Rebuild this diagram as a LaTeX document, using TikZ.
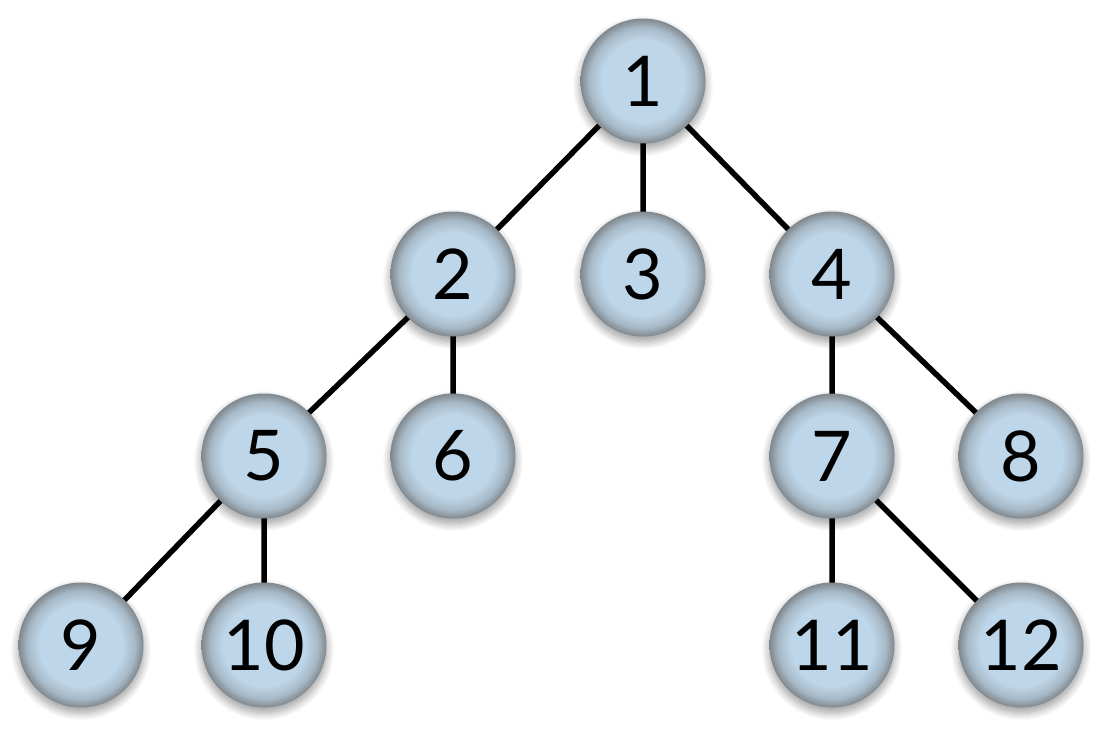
\documentclass[tikz,border=0pt]{standalone}
\usepackage{fontspec}
\setmainfont{Lato}
\usetikzlibrary{shadows.blur}
\definecolor{cin}{HTML}{BED6E9}
\definecolor{cmid}{HTML}{A7B9C7}
\definecolor{cout}{HTML}{80888E}
\pgfdeclareradialshading{ballshade}{\pgfpoint{0bp}{0bp}}{color(0bp)=(cin);color(16.5bp)=(cin);color(21.5bp)=(cmid);color(25bp)=(cout);color(50bp)=(cout)}
\tikzset{
  treenode/.style={circle, minimum size=125pt, inner sep=0pt, shading=ballshade,
    blur shadow={shadow xshift=0pt, shadow yshift=-5pt, shadow blur radius=8pt, shadow blur steps=12, shadow opacity=40},
    font=\fontsize{70}{84}\selectfont, text=black},
  treeedge/.style={line width=5.5pt, black}
}
\begin{document}
\begin{tikzpicture}[x=1pt,y=-1pt]
\useasboundingbox (0,0) rectangle (1109,733);
\coordinate (p1) at (643,81);
\coordinate (p2) at (453,274);
\coordinate (p3) at (643,274);
\coordinate (p4) at (832,274);
\coordinate (p5) at (264,456);
\coordinate (p6) at (453,456);
\coordinate (p7) at (832,456);
\coordinate (p8) at (1021,456);
\coordinate (p9) at (81,645);
\coordinate (p10) at (264,645);
\coordinate (p11) at (832,645);
\coordinate (p12) at (1021,645);
\draw[treeedge] (p1) -- (p2) (p1) -- (p3) (p1) -- (p4)
  (p2) -- (p5) (p2) -- (p6) (p4) -- (p7) (p4) -- (p8)
  (p5) -- (p9) (p5) -- (p10) (p7) -- (p11) (p7) -- (p12);
\foreach \i in {1,...,12} {
  \node[treenode] (n\i) at (p\i) {\raisebox{-3pt}{\i}};
}
\end{tikzpicture}
\end{document}
